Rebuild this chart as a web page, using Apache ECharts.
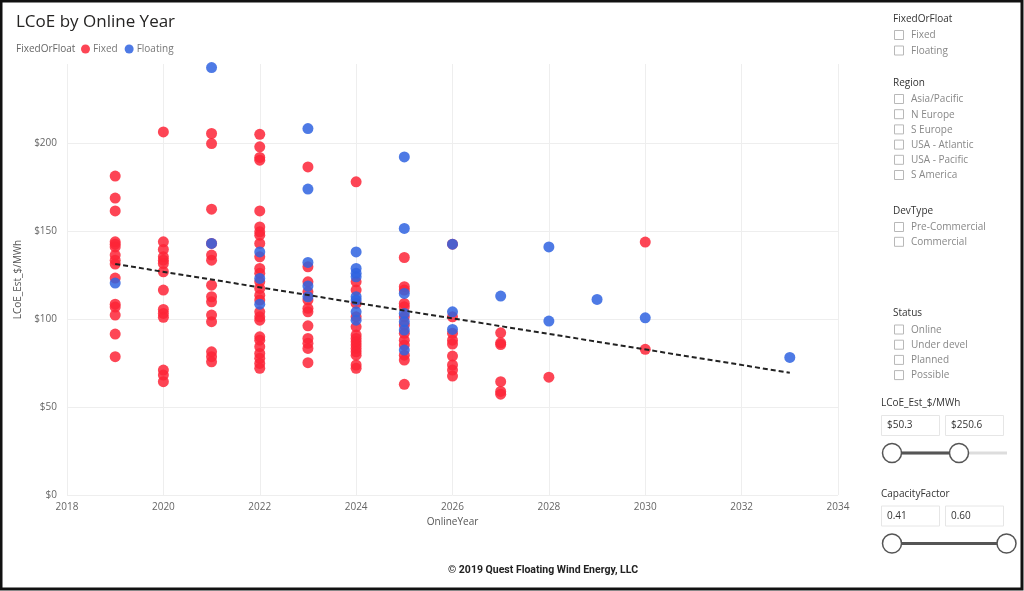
<!DOCTYPE html>
<html>
<head>
<meta charset="utf-8">
<script src="https://cdn.jsdelivr.net/npm/echarts@6/dist/echarts.min.js"></script>
<style>
html,body{margin:0;padding:0;background:#fff;}
#c{width:1024px;height:591px;}
</style>
</head>
<body>
<div id="c"></div>
<script>
// ---- data ----
const years = [2019, 2020, 2021, 2022, 2023, 2024, 2025, 2026, 2027, 2028, 2029, 2030, 2033];
const fixedLCoE = [
  [181.3, 168.8, 161.5, 143.9, 142.6, 141.0, 136.4, 133.5, 131.3, 123.3, 108.5, 106.8, 102.3, 91.5, 78.6],
  [206.4, 143.9, 139.6, 135.4, 133.5, 131.6, 126.9, 116.5, 105.5, 103.2, 101.0, 71.0, 68.2, 64.4],
  [205.5, 199.8, 162.5, 143.0, 136.4, 133.5, 119.3, 112.7, 109.8, 102.3, 98.5, 81.4, 78.6, 75.7],
  [205.0, 197.9, 191.9, 190.3, 161.5, 152.4, 149.6, 147.7, 143.0, 135.4, 128.8, 126.0, 121.2, 117.4, 113.6, 110.8, 104.1, 101.3, 99.4, 89.9, 88.0, 84.3, 80.5, 77.7, 74.8, 72.0],
  [186.5, 129.7, 121.2, 115.5, 110.8, 106.1, 104.1, 96.2, 89.0, 86.2, 83.3, 75.2],
  [178.0, 121.2, 116.5, 108.9, 101.3, 95.6, 90.9, 89.0, 87.1, 85.2, 83.3, 81.4, 79.5, 73.9, 72.0],
  [135.0, 118.4, 116.5, 108.9, 107.0, 101.3, 96.6, 91.9, 88.0, 85.2, 79.5, 76.7, 62.9],
  [142.6, 101.3, 91.9, 88.0, 85.8, 79.0, 73.9, 71.0, 67.6],
  [92.2, 86.5, 85.5, 64.4, 58.9, 57.3],
  [67.0],
  [],
  [143.8, 82.8],
  []
];
const floatingLCoE = [
  [120.5],
  [],
  [243.0, 143.0],
  [138.2, 123.1, 108.5],
  [208.3, 173.9, 132.2, 118.8, 112.7],
  [138.2, 128.8, 126.0, 124.0, 112.7, 110.8, 104.1, 99.4],
  [192.2, 151.5, 114.6, 103.2, 98.5, 93.8, 82.4],
  [142.6, 104.1, 94.1],
  [113.1],
  [141.0, 98.9],
  [111.2],
  [100.7],
  [78.2]
];
const trendYears = [2019, 2033];
const trendLCoE = [131.3, 69.5];
const xTicks = [2018, 2034, 2];
const yTicks = [0, 245, 50];

// slicer texts
const slicerFixedOrFloat = ['Fixed', 'Floating'];
const slicerRegion = ['Asia/Pacific', 'N Europe', 'S Europe', 'USA - Atlantic', 'USA - Pacific', 'S America'];
const slicerDevType = ['Pre-Commercial', 'Commercial'];
const slicerStatus = ['Online', 'Under devel', 'Planned', 'Possible'];
const lcoeRange = ['$50.3', '$250.6'];
const cfRange = ['0.41', '0.60'];

// ---- build ----
function pairs(list) {
  const out = [];
  list.forEach((vals, i) => vals.forEach(v => out.push([years[i], v])));
  return out;
}
const FONT = "'Segoe UI','Open Sans',sans-serif";
const g = [];
g.push({type:'rect', shape:{x:1, y:1, width:1021, height:588}, style:{fill:'none', stroke:'#111', lineWidth:3}, z:100});
g.push({type:'text', style:{text:'LCoE by Online Year', x:16, y:22, verticalAlign:'middle', fill:'#252423', font:'17px ' + FONT}});
g.push({type:'text', style:{text:'FixedOrFloat', x:16, y:49, verticalAlign:'middle', fill:'#666', font:'10px ' + FONT}});
g.push({type:'text', style:{text:'© 2019 Quest Floating Wind Energy, LLC', x:543, y:570, align:'center', verticalAlign:'middle', fill:'#222', font:'bold 10.5px Roboto, sans-serif'}});

function slicer(title, titleY, items, step) {
  g.push({type:'text', style:{text:title, x:893, y:titleY, verticalAlign:'middle', fill:'#333', font:'10px ' + FONT}});
  items.forEach((t, i) => {
    const y = titleY + 16.5 + i * step;
    g.push({type:'rect', shape:{x:894.5, y:y - 5, width:9, height:9}, style:{fill:'#fff', stroke:'#b8b8b8', lineWidth:1}});
    g.push({type:'text', style:{text:t, x:911, y:y, verticalAlign:'middle', fill:'#888', font:'10px ' + FONT}});
  });
}
slicer('FixedOrFloat', 19, slicerFixedOrFloat, 15.5);
slicer('Region', 83, slicerRegion, 15.2);
slicer('DevType', 211, slicerDevType, 14.8);
slicer('Status', 313.5, slicerStatus, 15.2);

function range(title, titleY, vals, x2) {
  g.push({type:'text', style:{text:title, x:881, y:titleY, verticalAlign:'middle', fill:'#333', font:'10px ' + FONT}});
  const by = titleY + 12;
  g.push({type:'rect', shape:{x:881.5, y:by, width:58, height:20}, style:{fill:'#fff', stroke:'#e6e6e6', lineWidth:1}});
  g.push({type:'rect', shape:{x:945.5, y:by, width:58, height:20}, style:{fill:'#fff', stroke:'#e6e6e6', lineWidth:1}});
  g.push({type:'text', style:{text:vals[0], x:887, y:by + 10, verticalAlign:'middle', fill:'#333', font:'10px ' + FONT}});
  g.push({type:'text', style:{text:vals[1], x:951, y:by + 10, verticalAlign:'middle', fill:'#333', font:'10px ' + FONT}});
  const ly = by + 37.5;
  g.push({type:'line', shape:{x1:892, y1:ly, x2:1007, y2:ly}, style:{stroke:'#ddd', lineWidth:3}});
  g.push({type:'line', shape:{x1:892, y1:ly, x2:x2, y2:ly}, style:{stroke:'#555', lineWidth:3}});
  g.push({type:'circle', shape:{cx:892, cy:ly, r:9.5}, style:{fill:'#fff', stroke:'#555', lineWidth:1.5}});
  g.push({type:'circle', shape:{cx:x2, cy:ly, r:9.5}, style:{fill:'#fff', stroke:'#555', lineWidth:1.5}});
}
range('LCoE_Est_$/MWh', 403.5, lcoeRange, 959);
range('CapacityFactor', 494, cfRange, 1006.5);

const chart = echarts.init(document.getElementById('c'), null, {renderer:'canvas'});
chart.setOption({
  animation:false,
  backgroundColor:'#fff',
  textStyle:{fontFamily:FONT},
  legend:{
    left:81, top:44, itemWidth:9, itemHeight:9, itemGap:7, padding:0,
    icon:'circle', data:['Fixed','Floating'],
    textStyle:{fontSize:10, color:'#777', padding:[0,0,0,-2]}
  },
  grid:{left:67, right:186, top:64, bottom:96, containLabel:false},
  xAxis:{
    type:'value', min:xTicks[0], max:xTicks[1], interval:xTicks[2],
    name:'OnlineYear', nameLocation:'middle', nameGap:22,
    nameTextStyle:{fontSize:10, color:'#555'},
    axisLine:{show:false}, axisTick:{show:false},
    axisLabel:{fontSize:10, color:'#666', margin:7, formatter: v => String(v)},
    splitLine:{show:true, lineStyle:{color:'#eeeeee', width:1}}
  },
  yAxis:{
    type:'value', min:yTicks[0], max:yTicks[1], interval:yTicks[2],
    name:'LCoE_Est_$/MWh', nameLocation:'middle', nameGap:42,
    nameTextStyle:{fontSize:10, color:'#555'},
    axisLine:{show:false}, axisTick:{show:false},
    axisLabel:{fontSize:10, color:'#666', margin:10, showMaxLabel:false,
      formatter: v => (v % 50 === 0 ? '$' + v : '')},
    splitLine:{show:true, showMaxLine:false, lineStyle:{color:'#eeeeee', width:1}}
  },
  series:[
    {name:'Fixed', type:'scatter', symbolSize:11, data:pairs(fixedLCoE),
     itemStyle:{color:'#FD2537', opacity:0.85}},
    {name:'Floating', type:'scatter', symbolSize:11, data:pairs(floatingLCoE),
     itemStyle:{color:'#2F63E0', opacity:0.85}},
    {name:'Trend', type:'line', data:trendYears.map((y, i) => [y, trendLCoE[i]]),
     symbol:'none', silent:true, z:5,
     lineStyle:{color:'#222', width:2, type:[5,3]}}
  ],
  graphic:g
});
</script>
</body>
</html>
